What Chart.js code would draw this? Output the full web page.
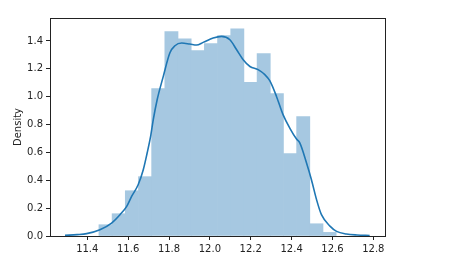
<!DOCTYPE html>
<html>
<head>
<meta charset="utf-8">
<script src="https://cdn.jsdelivr.net/npm/chart.js@4.4.1/dist/chart.umd.min.js"></script>
<style>
  html, body { margin: 0; padding: 0; background: #fff; }
  #chart { display: block; }
</style>
</head>
<body>
<canvas id="chart" width="472" height="272"></canvas>
<script>
/* ===== data ===== */
const binCenters = [11.4893, 11.5538, 11.6183, 11.6828, 11.7473, 11.8118, 11.8763, 11.9408, 12.0053,
  12.0698, 12.1343, 12.1988, 12.2633, 12.3278, 12.3923, 12.4568, 12.5213, 12.5858];
const binDensity = [0.081, 0.16, 0.325, 0.426, 1.058, 1.467, 1.415, 1.332, 1.382,
  1.438, 1.488, 1.103, 1.309, 1.022, 0.591, 0.857, 0.088, 0.026];

const kdeX = [11.291, 11.35, 11.397, 11.462, 11.519, 11.56, 11.593, 11.617, 11.649, 11.674, 11.693,
  11.71, 11.723, 11.742, 11.772, 11.804, 11.829, 11.862, 11.902, 11.935, 11.967, 12.016, 12.057,
  12.098, 12.131, 12.163, 12.196, 12.236, 12.269, 12.293, 12.326, 12.358, 12.391, 12.424, 12.44,
  12.473, 12.497, 12.522, 12.546, 12.589, 12.62, 12.668, 12.72, 12.782];
const kdeY = [0.005, 0.01, 0.017, 0.045, 0.093, 0.153, 0.213, 0.284, 0.368, 0.476, 0.596,
  0.715, 0.835, 0.978, 1.146, 1.314, 1.366, 1.385, 1.378, 1.371, 1.39, 1.421, 1.433,
  1.409, 1.337, 1.266, 1.217, 1.194, 1.158, 1.115, 1.002, 0.871, 0.775, 0.696, 0.668,
  0.524, 0.404, 0.261, 0.153, 0.069, 0.033, 0.014, 0.007, 0.004];

const xTicks = [11.4, 11.6, 11.8, 12.0, 12.2, 12.4, 12.6, 12.8];
const yTicks = [0.0, 0.2, 0.4, 0.6, 0.8, 1.0, 1.2, 1.4];

/* ===== helpers ===== */
const ink = "#222";
const tickFont = { family: "'DejaVu Sans', sans-serif", size: 10 };

// matplotlib-style frame round the plot area
const frame = {
  id: "frame",
  afterDraw(chart) {
    const { ctx, chartArea: a } = chart;
    ctx.save();
    ctx.strokeStyle = ink;
    ctx.lineWidth = 1;
    ctx.strokeRect(Math.round(a.left) + 0.5, Math.round(a.top) + 0.5,
      Math.round(a.right - a.left), Math.round(a.bottom - a.top));
    ctx.restore();
  },
};

new Chart(document.getElementById("chart"), {
  type: "bar",
  data: {
    datasets: [
      {
        type: "line",
        data: kdeX.map((x, i) => ({ x, y: kdeY[i] })),
        borderColor: "#1f77b4",
        borderWidth: 1.6,
        pointRadius: 0,
        fill: false,
        cubicInterpolationMode: "monotone",
      },
      {
        type: "bar",
        data: binCenters.map((x, i) => ({ x, y: binDensity[i] })),
        backgroundColor: "#a6c8e1",
        borderWidth: 0,
        barPercentage: 1,
        categoryPercentage: 1,
      },
    ],
  },
  options: {
    responsive: false,
    devicePixelRatio: 1,
    animation: false,
    layout: { padding: { left: 0, top: 18, right: 87, bottom: 0 } },
    plugins: { legend: { display: false }, tooltip: { enabled: false } },
    scales: {
      x: {
        type: "linear",
        offset: false,
        min: 11.2176,
        max: 12.857,
        afterBuildTicks: (s) => { s.ticks = xTicks.map((v) => ({ value: v })); },
        afterFit: (s) => { s.height = 36; },
        ticks: { font: tickFont, color: ink, padding: 3, maxRotation: 0,
          callback: (v) => v.toFixed(1) },
        grid: { offset: false, drawOnChartArea: false, tickLength: 4, tickColor: ink },
        border: { color: ink, width: 1 },
      },
      y: {
        min: 0,
        max: 1.565,
        afterBuildTicks: (s) => { s.ticks = yTicks.map((v) => ({ value: v })); },
        afterFit: (s) => { s.width = 50; },
        ticks: { font: tickFont, color: ink, padding: 3,
          callback: (v) => v.toFixed(1) },
        grid: { drawOnChartArea: false, tickLength: 4, tickColor: ink },
        border: { color: ink, width: 1 },
        title: { display: true, text: "Density", font: tickFont, color: ink,
          padding: { top: 12, bottom: 0 } },
      },
    },
  },
  plugins: [frame],
});
</script>
</body>
</html>
